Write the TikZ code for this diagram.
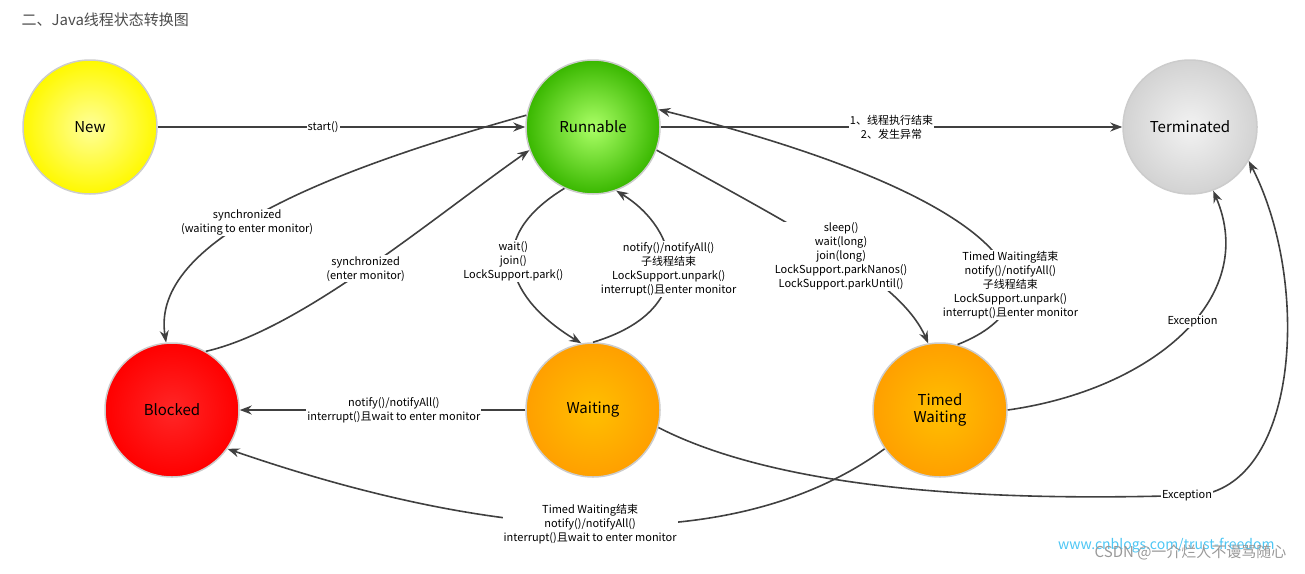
\documentclass[tikz,border=0pt]{standalone}
\usepackage{fontspec}
\setmainfont{Noto Sans CJK SC}
\usetikzlibrary{arrows.meta}
\begin{document}
\begin{tikzpicture}[x=1pt,y=-1pt,
 st/.style={circle,minimum size=134pt,draw=gray!40,line width=1.5pt,font=\fontsize{15}{17}\selectfont,align=center,inner sep=0pt},
 ar/.style={draw=black!75,line width=1.6pt,-{Stealth[length=12pt,width=9pt]}},
 lb/.style={font=\fontsize{11}{14}\selectfont,align=center,inner sep=1pt},
 wb/.style={lb,fill=white}]
\useasboundingbox (0,0) rectangle (1305,573);
\node[anchor=west,font=\fontsize{15}{17}\selectfont,text=black!70] (title) at (18,20) {二、Java线程状态转换图};
\node[st,inner color=yellow!40,outer color=yellow!95!orange] (new) at (90,127) {New};
\node[st,inner color=green!40!lime!60,outer color=green!60!black!70!lime] (run) at (593,127) {Runnable};
\node[st,inner color=gray!10,outer color=gray!35] (term) at (1190,127) {Terminated};
\node[st,inner color=red!85,outer color=red] (blk) at (172,410) {Blocked};
\node[st,inner color=orange!50!yellow,outer color=orange!75!yellow] (wait) at (593,410) {Waiting};
\node[st,inner color=orange!50!yellow,outer color=orange!75!yellow] (tw) at (940,410) {Timed\\Waiting};

\draw[ar] (new) -- (run) node[wb,pos=0.45]{start()};
\draw[ar] (run) -- (term) node[wb,pos=0.5]{1、线程执行结束\\2、发生异常};
\draw[ar] (blk.60) .. controls (300,330) and (430,220) .. (run.200) node[wb,pos=0.5]{synchronized\\(enter monitor)};
\draw[ar] (run.170) .. controls (330,170) and (150,240) .. (blk.95) node[wb,pos=0.55]{synchronized\\(waiting to enter monitor)};
\draw[ar] (run.245) .. controls (480,240) and (510,300) .. (wait.100) node[wb,pos=0.45]{wait()\\join()\\LockSupport.park()};
\draw[ar] (wait.90) .. controls (700,310) and (680,230) .. (run.290) node[wb,pos=0.5]{notify()/notifyAll()\\子线程结束\\LockSupport.unpark()\\interrupt()且enter monitor};
\draw[ar] (run.-20) .. controls (800,230) and (900,280) .. (tw.100) node[wb,pos=0.52]{sleep()\\wait(long)\\join(long)\\LockSupport.parkNanos()\\LockSupport.parkUntil()};
\draw[ar] (tw.75) .. controls (1070,300) and (1020,200) .. (run.15) node[wb,pos=0.33]{Timed Waiting结束\\notify()/notifyAll()\\子线程结束\\LockSupport.unpark()\\interrupt()且enter monitor};
\draw[ar] (wait) -- (blk) node[wb,pos=0.46]{notify()/notifyAll()\\interrupt()且wait to enter monitor};
\draw[ar] (tw.215) .. controls (760,540) and (550,560) .. (blk.325) node[wb,pos=0.56]{Timed Waiting结束\\notify()/notifyAll()\\interrupt()且wait to enter monitor};
\draw[ar] (tw.0) .. controls (1150,390) and (1260,300) .. (term.-70) node[wb,pos=0.55]{Exception};
\draw[ar] (wait.-15) .. controls (800,500) and (1050,500) .. (1200,495) .. controls (1300,480) and (1310,280) .. (term.-30);
\node[wb] (exc2) at (1187,495) {Exception};
\node[font=\fontsize{14}{16}\selectfont,text=cyan!70,anchor=east] (wm1) at (1278,546) {www.cnblogs.com/trust-freedom};
\node[font=\fontsize{15}{17}\selectfont,text=gray!80,anchor=east] (wm2) at (1290,552) {CSDN @一介烂人不谩骂随心};
\end{tikzpicture}
\end{document}
